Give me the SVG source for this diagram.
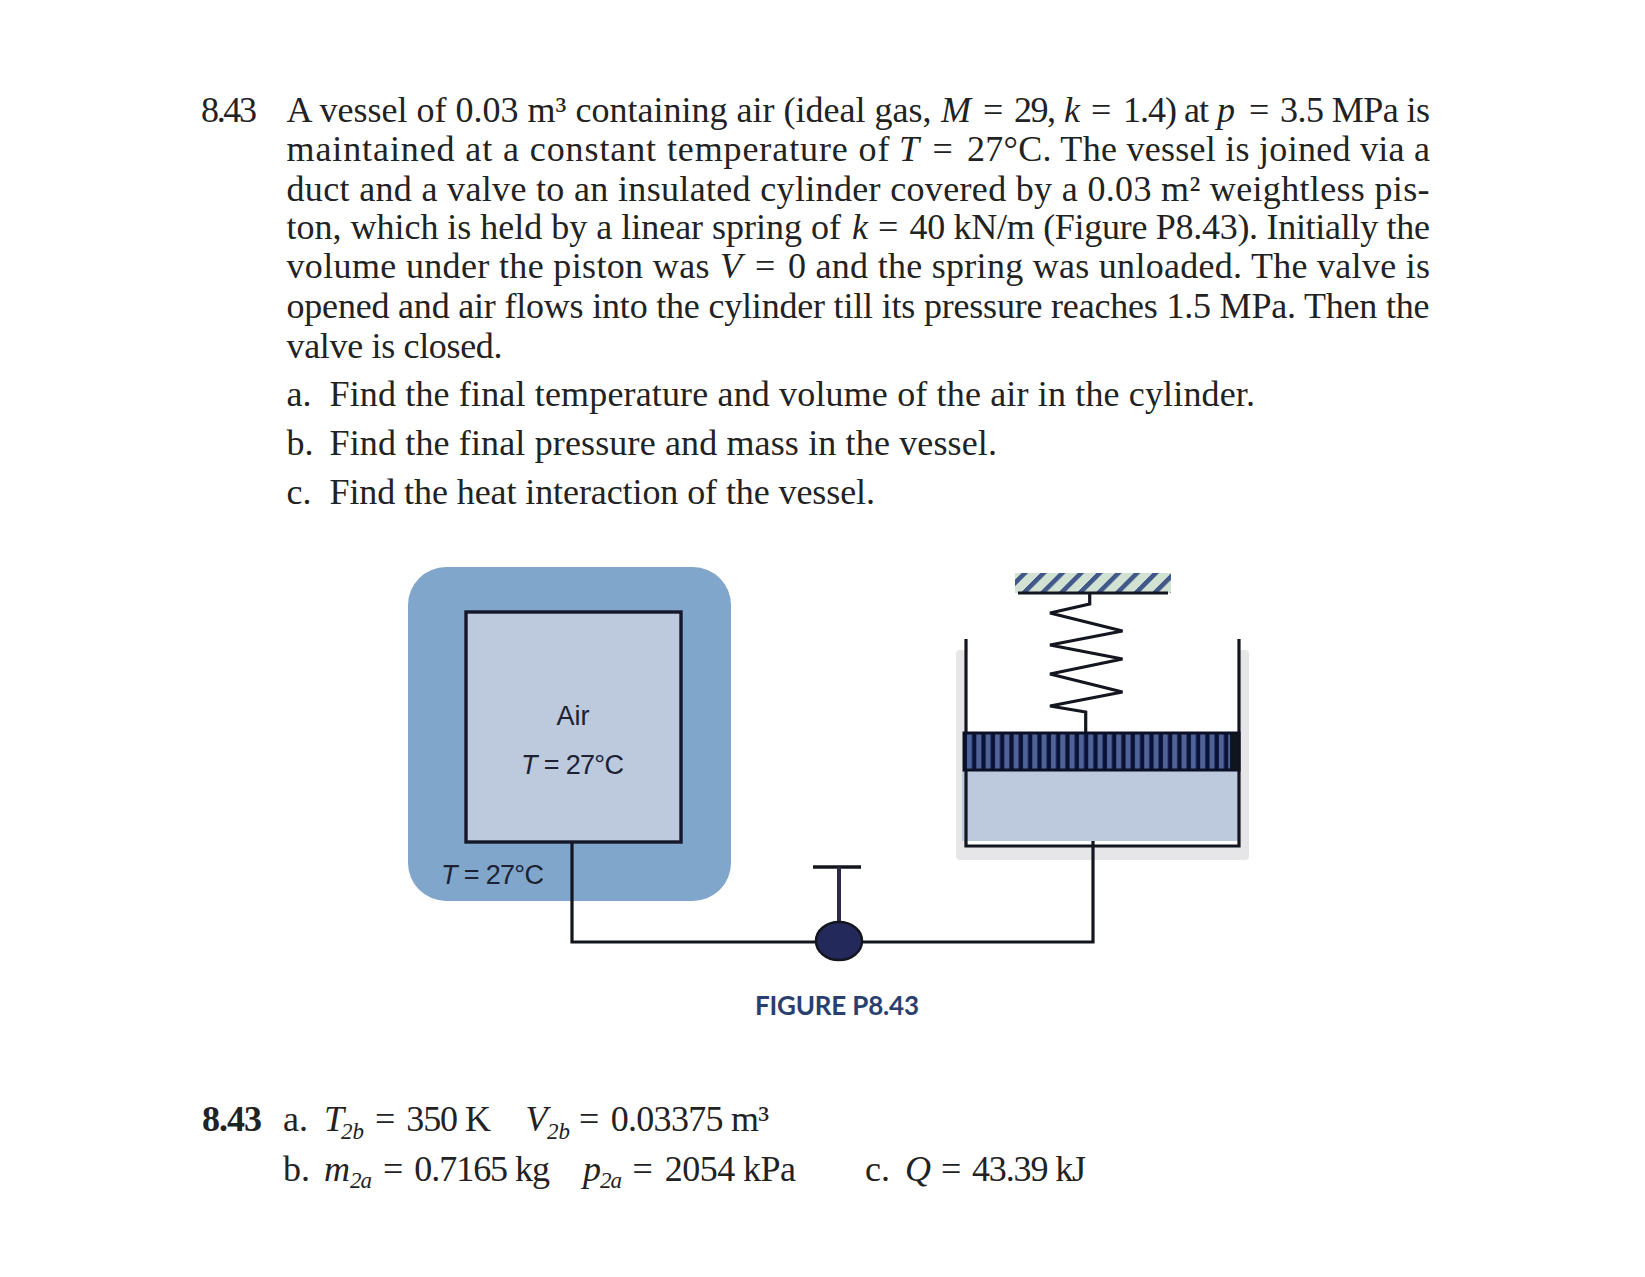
<svg xmlns="http://www.w3.org/2000/svg" width="1645" height="1277" viewBox="0 0 1645 1277">
<style>
.t{font-family:"Liberation Serif",serif;font-size:36px;fill:#222}
.i{font-style:italic}
.s{font-size:23px;font-style:italic}
.f{font-family:"Liberation Sans",sans-serif;font-size:27px;fill:#1c2233}
.l{fill:none;stroke:#14161f;stroke-width:3.2}
</style>
<defs>
<pattern id="pist" patternUnits="userSpaceOnUse" x="966" y="0" width="9.33" height="10"><rect width="9.33" height="10" fill="#0a1238"/><rect x="1" width="5" height="10" fill="#4f6397"/></pattern>
<pattern id="hatch" patternUnits="userSpaceOnUse" x="1015" y="573" width="18.7" height="20" patternTransform="skewX(-45)"><rect width="18.7" height="20" fill="#d2e2d2"/><rect width="6.500" height="20" fill="#41598a"/></pattern>
</defs>
<rect width="1645" height="1277" fill="#fff"/>
<g id="problem-text">
<text class="t" x="201" y="122" textLength="56">8.43</text>
<text class="t" x="286.5" y="122" textLength="645">A vessel of 0.03 m³ containing air (ideal gas,</text>
<text class="t i" x="941" y="122">M</text><text class="t" x="983" y="122">=</text>
<text class="t" x="1014" y="122" textLength="42">29,</text>
<text class="t i" x="1064" y="122">k</text><text class="t" x="1091" y="122">=</text>
<text class="t" x="1123" y="122" textLength="86">1.4) at</text>
<text class="t i" x="1217" y="122">p</text><text class="t" x="1249" y="122">=</text>
<text class="t" x="1280" y="122" textLength="150">3.5 MPa is</text>
<text class="t" x="286.5" y="161" textLength="603">maintained at a constant temperature of</text>
<text class="t i" x="899" y="161">T</text><text class="t" x="932.5" y="161">=</text>
<text class="t" x="967" y="161" textLength="463">27°C. The vessel is joined via a</text>
<text class="t" x="286.5" y="201" textLength="1143">duct and a valve to an insulated cylinder covered by a 0.03 m² weightless pis-</text>
<text class="t" x="286.5" y="239" textLength="554.5">ton, which is held by a linear spring of</text>
<text class="t i" x="852" y="239">k</text><text class="t" x="878" y="239">=</text>
<text class="t" x="909.5" y="239" textLength="520.5">40 kN/m (Figure P8.43). Initially the</text>
<text class="t" x="286.5" y="278" textLength="423">volume under the piston was</text>
<text class="t i" x="720" y="278">V</text><text class="t" x="755" y="278">=</text>
<text class="t" x="788" y="278" textLength="642">0 and the spring was unloaded. The valve is</text>
<text class="t" x="286.5" y="318" textLength="1143">opened and air flows into the cylinder till its pressure reaches 1.5 MPa. Then the</text>
<text class="t" x="286.5" y="358" textLength="216">valve is closed.</text>
<text class="t" x="286.5" y="406">a.</text><text class="t" x="329.5" y="406" textLength="925.5">Find the final temperature and volume of the air in the cylinder.</text>
<text class="t" x="286.5" y="455">b.</text><text class="t" x="329.5" y="455" textLength="667.5">Find the final pressure and mass in the vessel.</text>
<text class="t" x="286.5" y="504">c.</text><text class="t" x="329.5" y="504" textLength="545.5">Find the heat interaction of the vessel.</text>
</g>
<g id="vessel">
<rect x="408" y="567" width="323" height="334" rx="38" fill="#81a6cb"/>
<rect x="466" y="612" width="215" height="230" fill="#bdc9dd" stroke="#14182a" stroke-width="3.4"/>
<text class="f" x="573" y="725" text-anchor="middle">Air</text>
<text class="f" x="521" y="774" textLength="103"><tspan class="i">T</tspan> = 27°C</text>
<text class="f" x="441" y="884" textLength="103"><tspan class="i">T</tspan> = 27°C</text>
</g>
<g id="cylinder">
<rect x="956" y="650" width="293" height="210" rx="4" fill="#e6e6e8"/>
<rect x="966" y="640" width="273" height="92" fill="#fff"/>
<rect x="966" y="841" width="273" height="5" fill="#fff"/>
<rect x="962" y="771" width="276" height="70" fill="#bdc9dd"/>
<path class="l" d="M966 639V846H1239V639"/>
</g>
<g id="piston">
<rect x="964" y="733" width="275" height="37" fill="url(#pist)" stroke="#0c1026" stroke-width="3"/>
<rect x="1230" y="733" width="9" height="37" fill="#10141c"/>
</g>
<g id="spring">
<rect x="1015" y="573" width="156" height="20" fill="url(#hatch)"/>
<path class="l" d="M1018 593H1168"/>
<path class="l" stroke-linejoin="miter" d="M1089.7 594V604L1050 613L1122.500 631L1050 645L1122.500 659L1050 674L1122.500 692L1050 706L1085.700 712V732"/>
</g>
<g id="valve">
<path d="M813 867H861" stroke="#14161f" stroke-width="3.5"/>
<path d="M839 867V925" stroke="#2a2c4a" stroke-width="4"/>
<ellipse cx="839" cy="941" rx="23" ry="19" fill="#24295c" stroke="#14161f" stroke-width="2.500"/>
</g>
<g id="connectors">
<path class="l" d="M572 843V942H815"/>
<path class="l" d="M863 942H1093V841"/>
</g>
<text id="caption" x="755" y="1015" textLength="164" font-family="Lato,'Liberation Sans',sans-serif" font-size="26" font-weight="700" fill="#2a3f6e">FIGURE P8.43</text>
<g id="answers">
<text class="t" x="202" y="1131" font-weight="700" textLength="60">8.43</text>
<text class="t" x="283" y="1131">a.</text>
<text class="t i" x="324" y="1131">T</text><text class="t s" x="341" y="1139" textLength="23">2b</text>
<text class="t" x="375" y="1131" textLength="116">= <tspan dx="4">350</tspan> K</text>
<text class="t i" x="525.500" y="1131">V</text><text class="t s" x="547" y="1139" textLength="23">2b</text>
<text class="t" x="579" y="1131" textLength="190">= <tspan dx="4">0.03375</tspan> m³</text>
<text class="t" x="283" y="1181">b.</text>
<text class="t i" x="324" y="1181">m</text><text class="t s" x="350" y="1188" textLength="22">2a</text>
<text class="t" x="383" y="1181" textLength="167">= <tspan dx="4">0.7165</tspan> kg</text>
<text class="t i" x="583" y="1181">p</text><text class="t s" x="600" y="1188" textLength="22">2a</text>
<text class="t" x="632.500" y="1181" textLength="163.500">= <tspan dx="4">2054</tspan> kPa</text>
<text class="t" x="865" y="1181">c.</text>
<text class="t i" x="905" y="1181">Q</text>
<text class="t" x="941" y="1181" textLength="145">= <tspan dx="4">43.39</tspan> kJ</text>
</g>
</svg>
